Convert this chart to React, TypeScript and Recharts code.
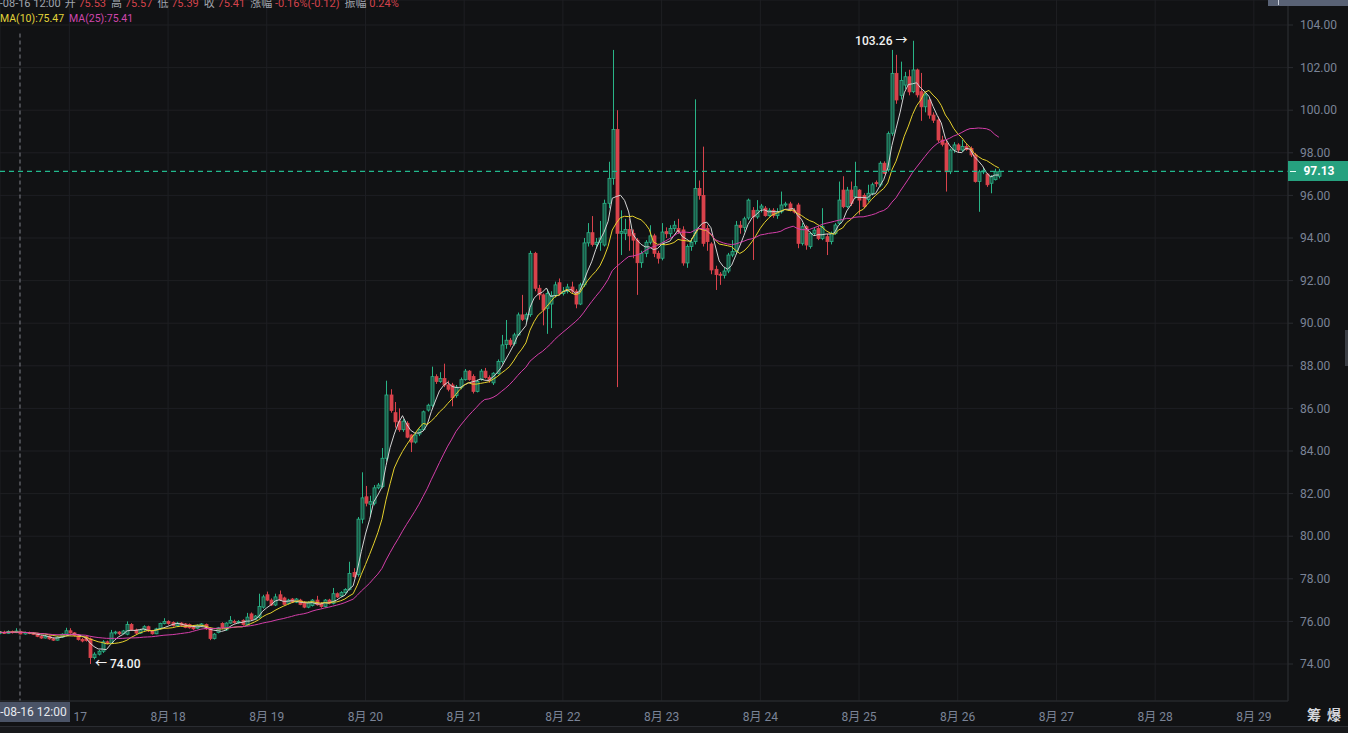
import { ComposedChart, Bar, Line, XAxis, YAxis, CartesianGrid, ReferenceLine, ReferenceDot } from 'recharts'

// hourly candles, hour 0 = 2025-08-16 12:00
const FIRST_HOUR = -5

const openPrices = [
  75.45, 75.50, 75.44, 75.53, 75.47, 75.53, 75.41, 75.48, 75.44, 75.40,
  75.30, 75.22, 75.31, 75.18, 75.12, 75.26, 75.40, 75.56, 75.46, 75.34,
  75.15, 75.28, 75.18, 74.30, 74.46, 74.60, 75.04, 74.98, 75.46, 75.50,
  75.42, 75.40, 75.85, 75.60, 75.45, 75.60, 75.75, 75.55, 75.42, 75.65,
  75.90, 76.00, 75.95, 75.80, 75.92, 75.88, 75.85, 75.78, 75.68, 75.78,
  75.85, 75.65, 75.20, 75.48, 75.90, 75.60, 75.92, 76.00, 75.95, 76.05,
  75.85, 76.35, 76.10, 76.20, 76.67, 77.25, 77.00, 76.77, 77.25, 77.10,
  76.85, 77.05, 76.90, 77.00, 76.90, 76.67, 76.75, 77.00, 76.85, 76.70,
  77.00, 76.85, 77.30, 77.20, 77.35, 77.50, 78.30, 78.20, 80.80, 81.85,
  81.50, 81.55, 82.27, 82.33, 83.66, 86.63, 85.80, 85.40, 85.00, 85.30,
  84.75, 84.42, 84.80, 85.00, 85.92, 86.15, 87.49, 87.26, 87.40, 87.10,
  87.10, 86.60, 87.00, 87.35, 87.75, 87.50, 86.80, 87.35, 87.75, 87.45,
  87.20, 87.65, 88.20, 89.00, 89.20, 89.05, 89.45, 90.39, 90.20, 90.40,
  93.28, 91.64, 91.33, 90.70, 90.90, 91.30, 91.90, 91.40, 91.50, 91.70,
  91.50, 90.90, 91.80, 93.77, 94.25, 93.70, 93.80, 93.67, 95.63, 96.80,
  99.10, 94.22, 94.22, 94.40, 94.22, 93.90, 92.84, 93.28, 93.80, 94.10,
  93.28, 93.05, 94.30, 94.20, 94.45, 94.45, 94.38, 92.83, 93.60, 93.83,
  96.33, 96.00, 94.45, 93.72, 92.53, 92.30, 92.25, 92.45, 93.20, 93.36,
  94.60, 94.50, 94.94, 95.30, 94.99, 95.40, 95.40, 95.05, 95.30, 95.05,
  95.23, 95.55, 95.60, 95.30, 95.55, 93.75, 94.53, 93.60, 94.22, 94.45,
  93.98, 94.06, 93.83, 94.22, 94.69, 96.25, 95.47, 96.25, 95.94, 96.25,
  96.00, 95.80, 96.10, 96.60, 96.49, 97.51, 97.20, 98.92, 101.73, 100.70,
  101.18, 101.57, 100.87, 101.89, 100.87, 100.16, 100.48, 99.77, 99.54, 98.60,
  98.45, 97.11, 98.13, 98.37, 98.13, 98.30, 98.20, 97.90, 96.65, 97.11,
  97.00, 96.57, 96.74, 96.90,
]

const highPrices = [
  75.55, 75.56, 75.58, 75.57, 75.68, 75.57, 75.52, 75.52, 75.50, 75.44,
  75.35, 75.36, 75.34, 75.24, 75.30, 75.44, 75.70, 75.68, 75.50, 75.38,
  75.22, 75.32, 75.24, 74.55, 74.66, 75.12, 75.10, 75.60, 75.56, 75.54,
  75.60, 76.00, 75.92, 75.66, 75.65, 75.82, 75.80, 75.60, 75.70, 75.94,
  76.15, 76.05, 76.00, 75.98, 75.96, 75.92, 75.90, 75.82, 75.86, 75.92,
  75.90, 75.70, 75.45, 75.74, 75.96, 75.96, 76.25, 76.08, 76.06, 76.10,
  76.40, 76.42, 76.30, 77.30, 77.25, 77.40, 77.08, 77.30, 77.45, 77.16,
  77.06, 77.10, 77.10, 77.06, 76.95, 76.94, 77.05, 77.20, 76.90, 77.05,
  77.06, 77.57, 77.36, 77.42, 77.56, 78.80, 78.50, 80.90, 83.00, 82.36,
  81.90, 82.40, 82.50, 84.14, 87.30, 86.90, 86.30, 86.00, 85.50, 85.40,
  84.80, 84.85, 85.05, 85.90, 86.22, 87.96, 87.60, 87.70, 88.10, 87.30,
  87.20, 87.10, 87.45, 87.85, 87.80, 87.60, 87.35, 87.85, 87.90, 87.55,
  87.70, 88.30, 89.45, 90.15, 89.30, 89.55, 90.50, 91.33, 90.50, 93.40,
  93.35, 91.80, 91.40, 91.60, 91.50, 91.95, 92.10, 91.70, 91.85, 91.95,
  91.60, 91.90, 94.00, 94.70, 95.03, 94.00, 94.80, 95.80, 97.58, 102.83,
  100.00, 95.30, 94.90, 94.90, 94.40, 94.00, 93.40, 93.90, 94.60, 94.20,
  93.40, 94.70, 94.50, 94.60, 94.80, 94.90, 94.55, 93.70, 94.00, 100.51,
  96.70, 98.29, 94.60, 93.80, 92.70, 92.40, 92.60, 93.30, 93.90, 94.80,
  94.80, 95.00, 95.85, 95.45, 95.78, 95.60, 95.50, 95.40, 95.40, 95.40,
  96.18, 95.70, 95.70, 95.40, 95.65, 94.70, 94.60, 94.30, 94.50, 94.55,
  95.40, 94.20, 94.30, 94.70, 96.65, 96.90, 96.40, 96.65, 97.58, 96.30,
  96.10, 96.50, 96.60, 96.70, 97.60, 97.60, 99.00, 102.83, 102.60, 102.28,
  101.80, 101.90, 103.26, 101.95, 101.75, 100.80, 100.60, 99.90, 99.70, 98.80,
  98.60, 98.20, 98.50, 98.45, 98.60, 98.45, 98.30, 98.00, 97.20, 97.30,
  97.05, 96.95, 97.25, 97.25,
]

const lowPrices = [
  75.40, 75.41, 75.42, 75.43, 75.45, 75.39, 75.38, 75.40, 75.36, 75.26,
  75.18, 75.20, 75.14, 75.08, 75.10, 75.22, 75.36, 75.42, 75.30, 75.10,
  75.02, 75.05, 74.00, 74.22, 74.40, 74.52, 74.92, 74.95, 75.38, 75.36,
  75.40, 75.35, 75.55, 75.40, 75.42, 75.56, 75.50, 75.38, 75.40, 75.62,
  75.86, 75.84, 75.76, 75.76, 75.78, 75.68, 75.66, 75.60, 75.64, 75.74,
  75.60, 75.12, 75.15, 75.44, 75.64, 75.56, 75.88, 75.90, 75.90, 75.80,
  75.82, 76.05, 76.06, 76.15, 76.60, 76.95, 76.72, 76.72, 76.96, 76.76,
  76.80, 76.86, 76.86, 76.76, 76.62, 76.62, 76.70, 76.74, 76.64, 76.66,
  76.80, 76.80, 77.10, 77.16, 77.30, 77.45, 78.05, 78.10, 80.60, 81.40,
  80.90, 81.45, 82.20, 82.25, 83.50, 85.80, 85.10, 84.90, 84.90, 84.60,
  83.95, 84.35, 84.70, 84.95, 85.85, 86.05, 87.15, 87.20, 87.00, 86.80,
  86.10, 86.50, 86.90, 87.30, 87.30, 86.70, 86.75, 87.30, 87.40, 87.20,
  87.10, 87.60, 88.10, 88.80, 88.90, 88.95, 89.40, 90.10, 90.05, 90.30,
  91.50, 91.10, 89.90, 89.50, 89.77, 91.20, 91.30, 91.30, 91.40, 91.40,
  90.70, 90.85, 91.70, 93.60, 93.60, 93.50, 93.40, 93.60, 95.40, 96.50,
  87.00, 93.20, 93.90, 93.40, 93.05, 91.33, 92.60, 93.10, 93.70, 93.10,
  92.80, 92.95, 94.00, 94.05, 94.30, 94.20, 92.70, 92.60, 93.40, 93.70,
  95.80, 93.60, 93.40, 92.30, 91.56, 91.80, 92.10, 92.35, 93.10, 93.30,
  94.20, 94.30, 94.85, 92.97, 94.90, 95.20, 95.00, 95.00, 94.95, 94.90,
  95.15, 95.45, 95.25, 95.15, 93.52, 93.65, 93.45, 93.50, 94.10, 93.90,
  93.90, 93.20, 93.70, 94.15, 94.60, 95.40, 95.40, 95.50, 95.85, 95.10,
  95.40, 95.70, 96.00, 96.40, 96.40, 97.00, 97.10, 98.80, 100.30, 100.50,
  101.00, 100.70, 100.80, 100.60, 99.50, 99.90, 99.60, 99.40, 98.50, 98.30,
  96.18, 97.00, 98.00, 98.00, 98.05, 98.10, 97.80, 96.60, 95.23, 97.00,
  96.40, 96.10, 96.70, 96.80,
]

const closePrices = [
  75.50, 75.44, 75.53, 75.47, 75.55, 75.41, 75.48, 75.44, 75.40, 75.30,
  75.22, 75.31, 75.18, 75.12, 75.26, 75.40, 75.56, 75.46, 75.34, 75.15,
  75.08, 75.10, 74.30, 74.46, 74.60, 75.04, 74.98, 75.46, 75.50, 75.42,
  75.55, 75.85, 75.60, 75.45, 75.60, 75.75, 75.55, 75.42, 75.65, 75.90,
  76.00, 75.90, 75.80, 75.92, 75.82, 75.72, 75.70, 75.65, 75.82, 75.88,
  75.65, 75.20, 75.40, 75.70, 75.70, 75.92, 76.05, 75.95, 76.00, 75.85,
  76.20, 76.10, 76.25, 76.70, 77.15, 77.00, 76.77, 77.15, 77.00, 76.80,
  77.00, 76.90, 77.05, 76.80, 76.67, 76.90, 77.00, 76.78, 76.70, 77.00,
  76.85, 77.30, 77.15, 77.35, 77.50, 78.25, 78.10, 80.80, 81.80, 81.55,
  81.62, 82.27, 82.40, 83.66, 86.63, 85.90, 85.37, 85.00, 85.40, 84.65,
  84.42, 84.75, 85.00, 85.84, 86.15, 87.49, 87.26, 87.40, 87.10, 86.90,
  86.50, 87.00, 87.35, 87.75, 87.35, 86.80, 87.26, 87.75, 87.45, 87.30,
  87.65, 88.20, 88.98, 89.20, 89.00, 89.45, 90.39, 90.18, 90.40, 93.28,
  91.64, 91.33, 90.62, 91.40, 91.30, 91.80, 91.40, 91.50, 91.70, 91.50,
  90.90, 91.80, 93.77, 94.25, 93.70, 93.80, 94.00, 95.63, 96.80, 99.10,
  94.22, 94.30, 94.40, 94.10, 93.90, 92.84, 93.28, 93.80, 94.10, 93.28,
  93.05, 94.28, 94.20, 94.45, 94.60, 94.30, 92.83, 93.60, 93.80, 96.33,
  96.00, 93.75, 93.83, 92.50, 92.28, 92.25, 92.45, 93.20, 93.36, 94.60,
  94.50, 94.90, 95.78, 94.99, 95.30, 95.50, 95.05, 95.30, 95.05, 95.25,
  95.55, 95.60, 95.30, 95.22, 93.75, 94.53, 93.67, 94.22, 94.37, 93.98,
  94.53, 93.83, 94.22, 94.61, 95.78, 95.47, 96.25, 95.62, 96.41, 95.78,
  95.47, 96.10, 96.50, 96.55, 97.51, 97.04, 98.90, 101.73, 100.48, 101.40,
  101.57, 100.86, 101.89, 100.72, 100.16, 100.72, 99.77, 99.53, 98.60, 98.40,
  97.11, 98.13, 98.37, 98.13, 98.30, 98.15, 97.90, 96.65, 97.11, 97.15,
  96.50, 96.90, 97.11, 97.13,
]

const dayTicks = [12, 36, 60, 84, 108, 132, 156, 180, 204, 228, 252, 276, 300]
const dayLabels = ['8月 17', '8月 18', '8月 19', '8月 20', '8月 21', '8月 22', '8月 23', '8月 24', '8月 25', '8月 26', '8月 27', '8月 28', '8月 29']
const priceTicks = [74, 76, 78, 80, 82, 84, 86, 88, 90, 92, 94, 96, 98, 100, 102, 104]

const LAST_PRICE = 97.13
const X_DOMAIN = [-4.86, 308.3]
const Y_DOMAIN = [72.263, 105.174]

const GREEN = '#29b487'
const GREEN_FILL = '#1b5545'
const RED = '#d9434c'
const TEAL = '#22b98d'
const AXIS_TEXT = '#7b8497'
const LINE_DARK = '#2a2c31'

function movingAverage(values: number[], n: number) {
  return values.map((_, i) => {
    const part = values.slice(Math.max(0, i - n + 1), i + 1)
    return part.reduce((a, b) => a + b, 0) / part.length
  })
}

const ma5 = movingAverage(closePrices, 5)
const ma10 = movingAverage(closePrices, 10)
const ma25 = movingAverage(closePrices, 25)

const chartData = closePrices.map((close, i) => ({
  t: FIRST_HOUR + i,
  open: openPrices[i],
  high: highPrices[i],
  low: lowPrices[i],
  close,
  range: [lowPrices[i], highPrices[i]],
  ma5: ma5[i],
  ma10: ma10[i],
  ma25: ma25[i],
}))

function Candle(props: any) {
  const { x, y, width, height, payload } = props
  if (x == null || y == null || !payload) return null
  const top = Math.min(y, y + height)
  const span = Math.abs(height)
  const { open, close, high, low } = payload
  const toY = (v: number) => (high === low ? top : top + ((high - v) / (high - low)) * span)
  const cx = Math.round(x + width / 2) + 0.5
  const up = close >= open
  const color = up ? GREEN : RED
  const bodyTop = toY(Math.max(open, close))
  const bodyH = Math.max(1, toY(Math.min(open, close)) - bodyTop)
  return (
    <g>
      <line x1={cx} x2={cx} y1={top} y2={top + span} stroke={color} strokeWidth={1} />
      <rect x={cx - 1.5} y={bodyTop} width={3} height={bodyH} fill={up ? GREEN_FILL : RED} stroke={color} strokeWidth={0.8} />
    </g>
  )
}

// price tag drawn at the right end of the last-price line
function PriceTag(props: any) {
  const vb = props.viewBox
  if (!vb) return null
  const left = Math.round(vb.x + (vb.width || 0))
  const y = Math.round(vb.y + (vb.height || 0) / 2)
  return (
    <g>
      <rect x={left} y={y - 10} width={60} height={20} fill="#26a17f" />
      <line x1={left + 2} x2={left + 8} y1={y + 0.5} y2={y + 0.5} stroke="#e8fff6" strokeWidth={1} />
      <text x={left + 31} y={y + 4} textAnchor="middle" fill="#ffffff" fontSize={12} fontWeight={700}>
        {LAST_PRICE.toFixed(2)}
      </text>
    </g>
  )
}

const red = { color: '#d3434c' }
const gray = { color: '#a0a5ae' }

export default function App() {
  return (
    <div
      style={{
        position: 'fixed',
        left: 0,
        top: 0,
        width: 1348,
        height: 733,
        overflow: 'hidden',
        background: '#111214',
        fontFamily: "Roboto, 'Noto Sans CJK SC', sans-serif",
      }}
    >
      <ComposedChart width={1348} height={727} data={chartData} margin={{ top: 0, right: 0, bottom: 0, left: 0 }}>
        <CartesianGrid stroke="#1e1f23" />
        <XAxis
          type="number"
          dataKey="t"
          domain={X_DOMAIN}
          allowDataOverflow
          ticks={dayTicks}
          interval={0}
          tickFormatter={(v: number) => dayLabels[dayTicks.indexOf(v)] ?? ''}
          tick={{ fill: AXIS_TEXT, fontSize: 12 }}
          tickLine={false}
          tickMargin={5}
          axisLine={{ stroke: LINE_DARK }}
          height={26}
        />
        <YAxis
          orientation="right"
          domain={Y_DOMAIN}
          allowDataOverflow
          ticks={priceTicks}
          interval={0}
          tickFormatter={(v: number) => v.toFixed(2)}
          tick={{ fill: AXIS_TEXT, fontSize: 12 }}
          tickLine={{ stroke: LINE_DARK }}
          tickSize={5}
          tickMargin={7}
          axisLine={{ stroke: LINE_DARK }}
          width={60}
        />
        <ReferenceLine
          segment={[{ x: 0, y: 103.6 }, { x: 0, y: Y_DOMAIN[0] }]}
          stroke="#80838b"
          strokeDasharray="4 3"
        />
        <Bar dataKey="range" barSize={3} isAnimationActive={false} shape={(p: any) => <Candle {...p} />} />
        <Line dataKey="ma5" stroke="#d4d4d4" strokeWidth={1} dot={false} activeDot={false} isAnimationActive={false} />
        <Line dataKey="ma10" stroke="#e6d12c" strokeWidth={1} dot={false} activeDot={false} isAnimationActive={false} />
        <Line dataKey="ma25" stroke="#d43ea9" strokeWidth={1} dot={false} activeDot={false} isAnimationActive={false} />
        <ReferenceLine
          segment={[{ x: X_DOMAIN[0], y: LAST_PRICE }, { x: X_DOMAIN[1], y: LAST_PRICE }]}
          stroke={TEAL}
          strokeWidth={1.2}
          strokeDasharray="5 4"
        />
        <ReferenceDot x={X_DOMAIN[1] - 0.01} y={LAST_PRICE} r={0} label={(p: any) => <PriceTag {...p} />} />
        <ReferenceDot
          x={217}
          y={103.26}
          r={0}
          label={{ value: '103.26 →', position: 'left', fill: '#f2f2f2', fontSize: 12, fontWeight: 500 }}
        />
        <ReferenceDot
          x={17}
          y={74.0}
          r={0}
          label={{ value: '← 74.00', position: 'right', fill: '#f2f2f2', fontSize: 12, fontWeight: 500 }}
        />
      </ComposedChart>

      {/* header rows, cut off at the top like the original */}
      <div style={{ position: 'absolute', left: -25, top: -6, fontSize: 11, whiteSpace: 'nowrap', ...gray }}>
        <span>2025-08-16 12:00</span>
        <span style={{ marginLeft: 4 }}>开 </span><span style={red}>75.53</span>
        <span style={{ marginLeft: 5 }}>高 </span><span style={red}>75.57</span>
        <span style={{ marginLeft: 5 }}>低 </span><span style={red}>75.39</span>
        <span style={{ marginLeft: 5 }}>收 </span><span style={red}>75.41</span>
        <span style={{ marginLeft: 5 }}>涨幅 </span><span style={red}>-0.16%(-0.12)</span>
        <span style={{ marginLeft: 5 }}>振幅 </span><span style={red}>0.24%</span>
      </div>
      <div style={{ position: 'absolute', left: 0, top: 12, fontSize: 10.5, whiteSpace: 'nowrap' }}>
        <span style={{ color: '#e2d43a' }}>MA(10):75.47</span>
        <span style={{ color: '#cf46ad', marginLeft: 5 }}>MA(25):75.41</span>
      </div>

      {/* top right price tag stub */}
      <div style={{ position: 'absolute', left: 1268, top: 0, width: 80, height: 6, background: '#596275' }} />
      <div style={{ position: 'absolute', left: 1278, top: 0, width: 1, height: 5, background: '#c9ced8' }} />
      {/* right scroll handle */}
      <div style={{ position: 'absolute', left: 1345, top: 330, width: 3, height: 36, background: '#3b3e45' }} />

      {/* crosshair time label */}
      <div
        style={{
          position: 'absolute',
          left: -30,
          top: 702,
          width: 100,
          height: 20,
          lineHeight: '20px',
          background: '#4a5366',
          color: '#e6e9ee',
          fontSize: 12,
          textAlign: 'center',
        }}
      >
        2025-08-16 12:00
      </div>

      <div style={{ position: 'absolute', left: 1307, top: 704, fontSize: 14, fontWeight: 700, color: '#d4d7dd', letterSpacing: 6 }}>
        筹爆
      </div>
      <div style={{ position: 'absolute', left: 0, top: 726, width: 1348, height: 7, background: '#17181b', borderTop: '1px solid #2a2c31' }} />
    </div>
  )
}
